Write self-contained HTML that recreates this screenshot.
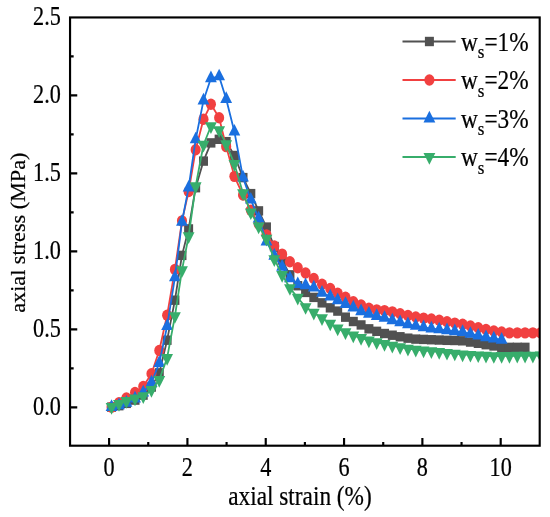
<!DOCTYPE html>
<html><head><meta charset="utf-8"><title>axial stress vs axial strain</title>
<style>
html,body{margin:0;padding:0;background:#fff;}
svg{display:block;}
text{font-family:"Liberation Serif","Times New Roman",serif;fill:#000;stroke:#000;stroke-width:0.2px;}
</style></head><body>
<svg width="550" height="517" viewBox="0 0 550 517">
<rect width="550" height="517" fill="#fff"/>

<defs><clipPath id="c"><rect x="70.05" y="17.45" width="469.65" height="428.25"/></clipPath></defs>
<g clip-path="url(#c)">
<g><polyline points="111.56,407.10 118.99,405.70 126.42,403.37 135.03,400.10 143.24,395.12 151.46,387.03 159.28,372.87 167.11,340.19 174.93,300.20 181.97,255.39 188.62,228.94 195.66,187.70 203.49,161.10 210.92,142.89 219.14,139.31 226.18,141.65 234.39,155.49 243.00,177.59 250.82,193.62 258.65,210.89 266.47,227.07 274.30,246.52 282.12,260.06 289.94,274.84 297.77,285.73 305.59,292.42 313.81,297.40 322.02,302.85 330.24,307.83 337.67,311.09 345.48,317.16 353.29,321.52 361.09,324.94 368.90,328.83 376.71,331.32 384.52,333.50 392.33,335.21 400.14,336.77 407.94,338.17 415.75,339.10 423.56,339.41 431.37,339.73 439.18,340.04 446.99,340.35 454.79,340.50 462.60,340.81 470.41,342.06 478.22,343.30 486.03,344.70 493.84,345.95 501.64,347.35 509.45,347.35 517.26,347.35 525.07,347.35" fill="none" stroke="#515151" stroke-width="1.8" stroke-linejoin="round"/>
<rect x="107.06" y="402.40" width="9.0" height="9.4" fill="#515151"/>
<rect x="114.49" y="401.00" width="9.0" height="9.4" fill="#515151"/>
<rect x="121.92" y="398.67" width="9.0" height="9.4" fill="#515151"/>
<rect x="130.53" y="395.40" width="9.0" height="9.4" fill="#515151"/>
<rect x="138.74" y="390.42" width="9.0" height="9.4" fill="#515151"/>
<rect x="146.96" y="382.33" width="9.0" height="9.4" fill="#515151"/>
<rect x="154.78" y="368.17" width="9.0" height="9.4" fill="#515151"/>
<rect x="162.61" y="335.49" width="9.0" height="9.4" fill="#515151"/>
<rect x="170.43" y="295.50" width="9.0" height="9.4" fill="#515151"/>
<rect x="177.47" y="250.69" width="9.0" height="9.4" fill="#515151"/>
<rect x="184.12" y="224.24" width="9.0" height="9.4" fill="#515151"/>
<rect x="191.16" y="183.00" width="9.0" height="9.4" fill="#515151"/>
<rect x="198.99" y="156.40" width="9.0" height="9.4" fill="#515151"/>
<rect x="206.42" y="138.19" width="9.0" height="9.4" fill="#515151"/>
<rect x="214.64" y="134.61" width="9.0" height="9.4" fill="#515151"/>
<rect x="221.68" y="136.95" width="9.0" height="9.4" fill="#515151"/>
<rect x="229.89" y="150.79" width="9.0" height="9.4" fill="#515151"/>
<rect x="238.50" y="172.89" width="9.0" height="9.4" fill="#515151"/>
<rect x="246.32" y="188.92" width="9.0" height="9.4" fill="#515151"/>
<rect x="254.15" y="206.19" width="9.0" height="9.4" fill="#515151"/>
<rect x="261.97" y="222.37" width="9.0" height="9.4" fill="#515151"/>
<rect x="269.80" y="241.82" width="9.0" height="9.4" fill="#515151"/>
<rect x="277.62" y="255.36" width="9.0" height="9.4" fill="#515151"/>
<rect x="285.44" y="270.14" width="9.0" height="9.4" fill="#515151"/>
<rect x="293.27" y="281.03" width="9.0" height="9.4" fill="#515151"/>
<rect x="301.09" y="287.72" width="9.0" height="9.4" fill="#515151"/>
<rect x="309.31" y="292.70" width="9.0" height="9.4" fill="#515151"/>
<rect x="317.52" y="298.15" width="9.0" height="9.4" fill="#515151"/>
<rect x="325.74" y="303.13" width="9.0" height="9.4" fill="#515151"/>
<rect x="333.17" y="306.39" width="9.0" height="9.4" fill="#515151"/>
<rect x="340.98" y="312.46" width="9.0" height="9.4" fill="#515151"/>
<rect x="348.79" y="316.82" width="9.0" height="9.4" fill="#515151"/>
<rect x="356.59" y="320.24" width="9.0" height="9.4" fill="#515151"/>
<rect x="364.40" y="324.13" width="9.0" height="9.4" fill="#515151"/>
<rect x="372.21" y="326.62" width="9.0" height="9.4" fill="#515151"/>
<rect x="380.02" y="328.80" width="9.0" height="9.4" fill="#515151"/>
<rect x="387.83" y="330.51" width="9.0" height="9.4" fill="#515151"/>
<rect x="395.64" y="332.07" width="9.0" height="9.4" fill="#515151"/>
<rect x="403.44" y="333.47" width="9.0" height="9.4" fill="#515151"/>
<rect x="411.25" y="334.40" width="9.0" height="9.4" fill="#515151"/>
<rect x="419.06" y="334.71" width="9.0" height="9.4" fill="#515151"/>
<rect x="426.87" y="335.03" width="9.0" height="9.4" fill="#515151"/>
<rect x="434.68" y="335.34" width="9.0" height="9.4" fill="#515151"/>
<rect x="442.49" y="335.65" width="9.0" height="9.4" fill="#515151"/>
<rect x="450.29" y="335.80" width="9.0" height="9.4" fill="#515151"/>
<rect x="458.10" y="336.11" width="9.0" height="9.4" fill="#515151"/>
<rect x="465.91" y="337.36" width="9.0" height="9.4" fill="#515151"/>
<rect x="473.72" y="338.60" width="9.0" height="9.4" fill="#515151"/>
<rect x="481.53" y="340.00" width="9.0" height="9.4" fill="#515151"/>
<rect x="489.34" y="341.25" width="9.0" height="9.4" fill="#515151"/>
<rect x="497.14" y="342.65" width="9.0" height="9.4" fill="#515151"/>
<rect x="504.95" y="342.65" width="9.0" height="9.4" fill="#515151"/>
<rect x="512.76" y="342.65" width="9.0" height="9.4" fill="#515151"/>
<rect x="520.57" y="342.65" width="9.0" height="9.4" fill="#515151"/>
</g>
<g><polyline points="111.56,407.10 118.99,402.74 126.42,397.92 135.03,392.47 143.24,386.41 151.46,373.80 159.28,350.46 167.11,315.30 174.93,269.39 181.97,220.85 188.62,191.59 195.66,149.74 203.49,119.24 210.92,104.30 219.14,117.68 226.18,146.63 234.39,176.35 243.00,195.02 250.82,210.11 258.65,223.96 266.47,234.85 274.30,246.05 282.12,254.15 289.94,261.77 297.77,267.68 305.59,272.97 313.81,278.57 322.02,284.18 330.24,288.53 337.67,293.20 345.48,297.25 353.29,301.76 361.09,305.03 368.90,308.29 376.71,309.85 384.52,310.63 392.33,311.87 400.14,313.74 407.94,315.45 415.75,317.01 423.56,318.10 431.37,319.03 439.18,320.28 446.99,321.68 454.79,323.08 462.60,324.32 470.41,326.03 478.22,327.74 486.03,329.46 493.84,331.01 501.64,331.95 509.45,332.88 517.26,332.88 525.07,332.88 532.88,332.88 540.69,332.88" fill="none" stroke="#F14040" stroke-width="1.8" stroke-linejoin="round"/>
<ellipse cx="111.56" cy="407.10" rx="5.05" ry="5.7" fill="#F14040"/>
<ellipse cx="118.99" cy="402.74" rx="5.05" ry="5.7" fill="#F14040"/>
<ellipse cx="126.42" cy="397.92" rx="5.05" ry="5.7" fill="#F14040"/>
<ellipse cx="135.03" cy="392.47" rx="5.05" ry="5.7" fill="#F14040"/>
<ellipse cx="143.24" cy="386.41" rx="5.05" ry="5.7" fill="#F14040"/>
<ellipse cx="151.46" cy="373.80" rx="5.05" ry="5.7" fill="#F14040"/>
<ellipse cx="159.28" cy="350.46" rx="5.05" ry="5.7" fill="#F14040"/>
<ellipse cx="167.11" cy="315.30" rx="5.05" ry="5.7" fill="#F14040"/>
<ellipse cx="174.93" cy="269.39" rx="5.05" ry="5.7" fill="#F14040"/>
<ellipse cx="181.97" cy="220.85" rx="5.05" ry="5.7" fill="#F14040"/>
<ellipse cx="188.62" cy="191.59" rx="5.05" ry="5.7" fill="#F14040"/>
<ellipse cx="195.66" cy="149.74" rx="5.05" ry="5.7" fill="#F14040"/>
<ellipse cx="203.49" cy="119.24" rx="5.05" ry="5.7" fill="#F14040"/>
<ellipse cx="210.92" cy="104.30" rx="5.05" ry="5.7" fill="#F14040"/>
<ellipse cx="219.14" cy="117.68" rx="5.05" ry="5.7" fill="#F14040"/>
<ellipse cx="226.18" cy="146.63" rx="5.05" ry="5.7" fill="#F14040"/>
<ellipse cx="234.39" cy="176.35" rx="5.05" ry="5.7" fill="#F14040"/>
<ellipse cx="243.00" cy="195.02" rx="5.05" ry="5.7" fill="#F14040"/>
<ellipse cx="250.82" cy="210.11" rx="5.05" ry="5.7" fill="#F14040"/>
<ellipse cx="258.65" cy="223.96" rx="5.05" ry="5.7" fill="#F14040"/>
<ellipse cx="266.47" cy="234.85" rx="5.05" ry="5.7" fill="#F14040"/>
<ellipse cx="274.30" cy="246.05" rx="5.05" ry="5.7" fill="#F14040"/>
<ellipse cx="282.12" cy="254.15" rx="5.05" ry="5.7" fill="#F14040"/>
<ellipse cx="289.94" cy="261.77" rx="5.05" ry="5.7" fill="#F14040"/>
<ellipse cx="297.77" cy="267.68" rx="5.05" ry="5.7" fill="#F14040"/>
<ellipse cx="305.59" cy="272.97" rx="5.05" ry="5.7" fill="#F14040"/>
<ellipse cx="313.81" cy="278.57" rx="5.05" ry="5.7" fill="#F14040"/>
<ellipse cx="322.02" cy="284.18" rx="5.05" ry="5.7" fill="#F14040"/>
<ellipse cx="330.24" cy="288.53" rx="5.05" ry="5.7" fill="#F14040"/>
<ellipse cx="337.67" cy="293.20" rx="5.05" ry="5.7" fill="#F14040"/>
<ellipse cx="345.48" cy="297.25" rx="5.05" ry="5.7" fill="#F14040"/>
<ellipse cx="353.29" cy="301.76" rx="5.05" ry="5.7" fill="#F14040"/>
<ellipse cx="361.09" cy="305.03" rx="5.05" ry="5.7" fill="#F14040"/>
<ellipse cx="368.90" cy="308.29" rx="5.05" ry="5.7" fill="#F14040"/>
<ellipse cx="376.71" cy="309.85" rx="5.05" ry="5.7" fill="#F14040"/>
<ellipse cx="384.52" cy="310.63" rx="5.05" ry="5.7" fill="#F14040"/>
<ellipse cx="392.33" cy="311.87" rx="5.05" ry="5.7" fill="#F14040"/>
<ellipse cx="400.14" cy="313.74" rx="5.05" ry="5.7" fill="#F14040"/>
<ellipse cx="407.94" cy="315.45" rx="5.05" ry="5.7" fill="#F14040"/>
<ellipse cx="415.75" cy="317.01" rx="5.05" ry="5.7" fill="#F14040"/>
<ellipse cx="423.56" cy="318.10" rx="5.05" ry="5.7" fill="#F14040"/>
<ellipse cx="431.37" cy="319.03" rx="5.05" ry="5.7" fill="#F14040"/>
<ellipse cx="439.18" cy="320.28" rx="5.05" ry="5.7" fill="#F14040"/>
<ellipse cx="446.99" cy="321.68" rx="5.05" ry="5.7" fill="#F14040"/>
<ellipse cx="454.79" cy="323.08" rx="5.05" ry="5.7" fill="#F14040"/>
<ellipse cx="462.60" cy="324.32" rx="5.05" ry="5.7" fill="#F14040"/>
<ellipse cx="470.41" cy="326.03" rx="5.05" ry="5.7" fill="#F14040"/>
<ellipse cx="478.22" cy="327.74" rx="5.05" ry="5.7" fill="#F14040"/>
<ellipse cx="486.03" cy="329.46" rx="5.05" ry="5.7" fill="#F14040"/>
<ellipse cx="493.84" cy="331.01" rx="5.05" ry="5.7" fill="#F14040"/>
<ellipse cx="501.64" cy="331.95" rx="5.05" ry="5.7" fill="#F14040"/>
<ellipse cx="509.45" cy="332.88" rx="5.05" ry="5.7" fill="#F14040"/>
<ellipse cx="517.26" cy="332.88" rx="5.05" ry="5.7" fill="#F14040"/>
<ellipse cx="525.07" cy="332.88" rx="5.05" ry="5.7" fill="#F14040"/>
<ellipse cx="532.88" cy="332.88" rx="5.05" ry="5.7" fill="#F14040"/>
<ellipse cx="540.69" cy="332.88" rx="5.05" ry="5.7" fill="#F14040"/>
</g>
<g><polyline points="111.56,407.10 118.99,405.39 126.42,402.74 135.03,398.54 143.24,392.63 151.46,382.52 159.28,363.07 167.11,326.19 174.93,277.33 181.97,221.94 188.62,187.70 195.66,139.47 203.49,100.57 210.92,78.32 219.14,76.45 226.18,99.01 234.39,131.69 243.00,177.59 250.82,199.69 258.65,218.51 266.47,241.54 274.30,255.86 282.12,266.90 289.94,278.26 297.77,284.18 305.59,285.42 313.81,287.60 322.02,292.73 330.24,296.62 337.67,300.36 345.48,304.09 353.29,307.67 361.09,311.25 368.90,313.74 376.71,316.07 384.52,317.94 392.33,320.43 400.14,322.30 407.94,324.32 415.75,325.88 423.56,327.28 431.37,328.52 439.18,329.46 446.99,330.39 454.79,331.32 462.60,332.10 470.41,333.97 478.22,335.68 486.03,337.39 493.84,338.64 501.64,339.73" fill="none" stroke="#1A6FDF" stroke-width="1.8" stroke-linejoin="round"/>
<polygon points="111.56,399.30 105.66,411.00 117.46,411.00" fill="#1A6FDF"/>
<polygon points="118.99,397.59 113.09,409.29 124.89,409.29" fill="#1A6FDF"/>
<polygon points="126.42,394.94 120.52,406.64 132.32,406.64" fill="#1A6FDF"/>
<polygon points="135.03,390.74 129.13,402.44 140.93,402.44" fill="#1A6FDF"/>
<polygon points="143.24,384.83 137.34,396.53 149.14,396.53" fill="#1A6FDF"/>
<polygon points="151.46,374.72 145.56,386.42 157.36,386.42" fill="#1A6FDF"/>
<polygon points="159.28,355.27 153.38,366.97 165.18,366.97" fill="#1A6FDF"/>
<polygon points="167.11,318.39 161.21,330.09 173.01,330.09" fill="#1A6FDF"/>
<polygon points="174.93,269.53 169.03,281.23 180.83,281.23" fill="#1A6FDF"/>
<polygon points="181.97,214.14 176.07,225.84 187.87,225.84" fill="#1A6FDF"/>
<polygon points="188.62,179.90 182.72,191.60 194.52,191.60" fill="#1A6FDF"/>
<polygon points="195.66,131.67 189.76,143.37 201.56,143.37" fill="#1A6FDF"/>
<polygon points="203.49,92.77 197.59,104.47 209.39,104.47" fill="#1A6FDF"/>
<polygon points="210.92,70.52 205.02,82.22 216.82,82.22" fill="#1A6FDF"/>
<polygon points="219.14,68.65 213.24,80.35 225.04,80.35" fill="#1A6FDF"/>
<polygon points="226.18,91.21 220.28,102.91 232.08,102.91" fill="#1A6FDF"/>
<polygon points="234.39,123.89 228.49,135.59 240.29,135.59" fill="#1A6FDF"/>
<polygon points="243.00,169.79 237.10,181.49 248.90,181.49" fill="#1A6FDF"/>
<polygon points="250.82,191.89 244.92,203.59 256.72,203.59" fill="#1A6FDF"/>
<polygon points="258.65,210.71 252.75,222.41 264.55,222.41" fill="#1A6FDF"/>
<polygon points="266.47,233.74 260.57,245.44 272.37,245.44" fill="#1A6FDF"/>
<polygon points="274.30,248.06 268.40,259.76 280.20,259.76" fill="#1A6FDF"/>
<polygon points="282.12,259.10 276.22,270.80 288.02,270.80" fill="#1A6FDF"/>
<polygon points="289.94,270.46 284.04,282.16 295.84,282.16" fill="#1A6FDF"/>
<polygon points="297.77,276.38 291.87,288.08 303.67,288.08" fill="#1A6FDF"/>
<polygon points="305.59,277.62 299.69,289.32 311.49,289.32" fill="#1A6FDF"/>
<polygon points="313.81,279.80 307.91,291.50 319.71,291.50" fill="#1A6FDF"/>
<polygon points="322.02,284.93 316.12,296.63 327.92,296.63" fill="#1A6FDF"/>
<polygon points="330.24,288.82 324.34,300.52 336.14,300.52" fill="#1A6FDF"/>
<polygon points="337.67,292.56 331.77,304.26 343.57,304.26" fill="#1A6FDF"/>
<polygon points="345.48,296.29 339.58,307.99 351.38,307.99" fill="#1A6FDF"/>
<polygon points="353.29,299.87 347.39,311.57 359.19,311.57" fill="#1A6FDF"/>
<polygon points="361.09,303.45 355.19,315.15 366.99,315.15" fill="#1A6FDF"/>
<polygon points="368.90,305.94 363.00,317.64 374.80,317.64" fill="#1A6FDF"/>
<polygon points="376.71,308.27 370.81,319.97 382.61,319.97" fill="#1A6FDF"/>
<polygon points="384.52,310.14 378.62,321.84 390.42,321.84" fill="#1A6FDF"/>
<polygon points="392.33,312.63 386.43,324.33 398.23,324.33" fill="#1A6FDF"/>
<polygon points="400.14,314.50 394.24,326.20 406.04,326.20" fill="#1A6FDF"/>
<polygon points="407.94,316.52 402.04,328.22 413.84,328.22" fill="#1A6FDF"/>
<polygon points="415.75,318.08 409.85,329.78 421.65,329.78" fill="#1A6FDF"/>
<polygon points="423.56,319.48 417.66,331.18 429.46,331.18" fill="#1A6FDF"/>
<polygon points="431.37,320.72 425.47,332.42 437.27,332.42" fill="#1A6FDF"/>
<polygon points="439.18,321.66 433.28,333.36 445.08,333.36" fill="#1A6FDF"/>
<polygon points="446.99,322.59 441.09,334.29 452.89,334.29" fill="#1A6FDF"/>
<polygon points="454.79,323.52 448.89,335.22 460.69,335.22" fill="#1A6FDF"/>
<polygon points="462.60,324.30 456.70,336.00 468.50,336.00" fill="#1A6FDF"/>
<polygon points="470.41,326.17 464.51,337.87 476.31,337.87" fill="#1A6FDF"/>
<polygon points="478.22,327.88 472.32,339.58 484.12,339.58" fill="#1A6FDF"/>
<polygon points="486.03,329.59 480.13,341.29 491.93,341.29" fill="#1A6FDF"/>
<polygon points="493.84,330.84 487.94,342.54 499.74,342.54" fill="#1A6FDF"/>
<polygon points="501.64,331.93 495.74,343.63 507.54,343.63" fill="#1A6FDF"/>
</g>
<g><polyline points="111.56,406.94 118.99,403.83 126.42,400.88 135.03,398.39 143.24,396.21 151.46,389.98 159.28,379.87 167.11,357.93 174.93,316.07 181.97,270.17 188.62,236.25 195.66,186.15 203.49,144.76 210.92,126.24 219.14,130.13 226.18,144.14 234.39,163.90 243.00,193.15 250.82,212.29 258.65,226.45 266.47,238.74 274.30,259.12 282.12,274.84 289.94,288.07 297.77,297.71 305.59,307.05 313.81,312.65 322.02,318.10 330.24,323.54 337.67,328.52 345.48,332.10 353.29,335.52 361.09,338.01 368.90,340.35 376.71,342.21 384.52,343.93 392.33,345.64 400.14,347.19 407.94,348.59 415.75,349.68 423.56,350.46 431.37,351.08 439.18,351.86 446.99,352.80 454.79,353.57 462.60,354.35 470.41,354.82 478.22,355.29 486.03,355.75 493.84,356.06 501.64,355.91 509.45,355.91 517.26,355.75 525.07,355.60 532.88,355.60 540.69,355.44" fill="none" stroke="#37AD6B" stroke-width="1.8" stroke-linejoin="round"/>
<polygon points="111.56,414.74 105.66,403.04 117.46,403.04" fill="#37AD6B"/>
<polygon points="118.99,411.63 113.09,399.93 124.89,399.93" fill="#37AD6B"/>
<polygon points="126.42,408.68 120.52,396.98 132.32,396.98" fill="#37AD6B"/>
<polygon points="135.03,406.19 129.13,394.49 140.93,394.49" fill="#37AD6B"/>
<polygon points="143.24,404.01 137.34,392.31 149.14,392.31" fill="#37AD6B"/>
<polygon points="151.46,397.78 145.56,386.08 157.36,386.08" fill="#37AD6B"/>
<polygon points="159.28,387.67 153.38,375.97 165.18,375.97" fill="#37AD6B"/>
<polygon points="167.11,365.73 161.21,354.03 173.01,354.03" fill="#37AD6B"/>
<polygon points="174.93,323.87 169.03,312.17 180.83,312.17" fill="#37AD6B"/>
<polygon points="181.97,277.97 176.07,266.27 187.87,266.27" fill="#37AD6B"/>
<polygon points="188.62,244.05 182.72,232.35 194.52,232.35" fill="#37AD6B"/>
<polygon points="195.66,193.95 189.76,182.25 201.56,182.25" fill="#37AD6B"/>
<polygon points="203.49,152.56 197.59,140.86 209.39,140.86" fill="#37AD6B"/>
<polygon points="210.92,134.04 205.02,122.34 216.82,122.34" fill="#37AD6B"/>
<polygon points="219.14,137.93 213.24,126.23 225.04,126.23" fill="#37AD6B"/>
<polygon points="226.18,151.94 220.28,140.24 232.08,140.24" fill="#37AD6B"/>
<polygon points="234.39,171.70 228.49,160.00 240.29,160.00" fill="#37AD6B"/>
<polygon points="243.00,200.95 237.10,189.25 248.90,189.25" fill="#37AD6B"/>
<polygon points="250.82,220.09 244.92,208.39 256.72,208.39" fill="#37AD6B"/>
<polygon points="258.65,234.25 252.75,222.55 264.55,222.55" fill="#37AD6B"/>
<polygon points="266.47,246.54 260.57,234.84 272.37,234.84" fill="#37AD6B"/>
<polygon points="274.30,266.92 268.40,255.22 280.20,255.22" fill="#37AD6B"/>
<polygon points="282.12,282.64 276.22,270.94 288.02,270.94" fill="#37AD6B"/>
<polygon points="289.94,295.87 284.04,284.17 295.84,284.17" fill="#37AD6B"/>
<polygon points="297.77,305.51 291.87,293.81 303.67,293.81" fill="#37AD6B"/>
<polygon points="305.59,314.85 299.69,303.15 311.49,303.15" fill="#37AD6B"/>
<polygon points="313.81,320.45 307.91,308.75 319.71,308.75" fill="#37AD6B"/>
<polygon points="322.02,325.90 316.12,314.20 327.92,314.20" fill="#37AD6B"/>
<polygon points="330.24,331.34 324.34,319.64 336.14,319.64" fill="#37AD6B"/>
<polygon points="337.67,336.32 331.77,324.62 343.57,324.62" fill="#37AD6B"/>
<polygon points="345.48,339.90 339.58,328.20 351.38,328.20" fill="#37AD6B"/>
<polygon points="353.29,343.32 347.39,331.62 359.19,331.62" fill="#37AD6B"/>
<polygon points="361.09,345.81 355.19,334.11 366.99,334.11" fill="#37AD6B"/>
<polygon points="368.90,348.15 363.00,336.45 374.80,336.45" fill="#37AD6B"/>
<polygon points="376.71,350.01 370.81,338.31 382.61,338.31" fill="#37AD6B"/>
<polygon points="384.52,351.73 378.62,340.03 390.42,340.03" fill="#37AD6B"/>
<polygon points="392.33,353.44 386.43,341.74 398.23,341.74" fill="#37AD6B"/>
<polygon points="400.14,354.99 394.24,343.29 406.04,343.29" fill="#37AD6B"/>
<polygon points="407.94,356.39 402.04,344.69 413.84,344.69" fill="#37AD6B"/>
<polygon points="415.75,357.48 409.85,345.78 421.65,345.78" fill="#37AD6B"/>
<polygon points="423.56,358.26 417.66,346.56 429.46,346.56" fill="#37AD6B"/>
<polygon points="431.37,358.88 425.47,347.18 437.27,347.18" fill="#37AD6B"/>
<polygon points="439.18,359.66 433.28,347.96 445.08,347.96" fill="#37AD6B"/>
<polygon points="446.99,360.60 441.09,348.90 452.89,348.90" fill="#37AD6B"/>
<polygon points="454.79,361.37 448.89,349.67 460.69,349.67" fill="#37AD6B"/>
<polygon points="462.60,362.15 456.70,350.45 468.50,350.45" fill="#37AD6B"/>
<polygon points="470.41,362.62 464.51,350.92 476.31,350.92" fill="#37AD6B"/>
<polygon points="478.22,363.09 472.32,351.39 484.12,351.39" fill="#37AD6B"/>
<polygon points="486.03,363.55 480.13,351.85 491.93,351.85" fill="#37AD6B"/>
<polygon points="493.84,363.86 487.94,352.16 499.74,352.16" fill="#37AD6B"/>
<polygon points="501.64,363.71 495.74,352.01 507.54,352.01" fill="#37AD6B"/>
<polygon points="509.45,363.71 503.55,352.01 515.35,352.01" fill="#37AD6B"/>
<polygon points="517.26,363.55 511.36,351.85 523.16,351.85" fill="#37AD6B"/>
<polygon points="525.07,363.40 519.17,351.70 530.97,351.70" fill="#37AD6B"/>
<polygon points="532.88,363.40 526.98,351.70 538.78,351.70" fill="#37AD6B"/>
<polygon points="540.69,363.24 534.79,351.54 546.59,351.54" fill="#37AD6B"/>
</g>
</g>
<rect x="70.05" y="17.45" width="469.65" height="428.25" fill="none" stroke="#000" stroke-width="2.15"/>
<path d="M109.10,445.7 v-7.7 M148.26,445.7 v-3.7 M187.42,445.7 v-7.7 M226.58,445.7 v-3.7 M265.74,445.7 v-7.7 M304.90,445.7 v-3.7 M344.06,445.7 v-7.7 M383.22,445.7 v-3.7 M422.38,445.7 v-7.7 M461.54,445.7 v-3.7 M500.70,445.7 v-7.7 M70.05,56.44 h3.6 M70.05,95.43 h7.2 M70.05,134.42 h3.6 M70.05,173.41 h7.2 M70.05,212.40 h3.6 M70.05,251.39 h7.2 M70.05,290.38 h3.6 M70.05,329.37 h7.2 M70.05,368.36 h3.6 M70.05,407.35 h7.2" stroke="#000" stroke-width="2.15" fill="none"/>
<text transform="translate(109.10,475.80) scale(1,1.21)" text-anchor="middle" font-size="22.2">0</text>
<text transform="translate(187.42,475.80) scale(1,1.21)" text-anchor="middle" font-size="22.2">2</text>
<text transform="translate(265.74,475.80) scale(1,1.21)" text-anchor="middle" font-size="22.2">4</text>
<text transform="translate(344.06,475.80) scale(1,1.21)" text-anchor="middle" font-size="22.2">6</text>
<text transform="translate(422.38,475.80) scale(1,1.21)" text-anchor="middle" font-size="22.2">8</text>
<text transform="translate(500.70,475.80) scale(1,1.21)" text-anchor="middle" font-size="22.2">10</text>
<text transform="translate(60.80,415.25) scale(1,1.21)" text-anchor="end" font-size="22.2">0.0</text>
<text transform="translate(60.80,337.27) scale(1,1.21)" text-anchor="end" font-size="22.2">0.5</text>
<text transform="translate(60.80,259.29) scale(1,1.21)" text-anchor="end" font-size="22.2">1.0</text>
<text transform="translate(60.80,181.31) scale(1,1.21)" text-anchor="end" font-size="22.2">1.5</text>
<text transform="translate(60.80,103.33) scale(1,1.21)" text-anchor="end" font-size="22.2">2.0</text>
<text transform="translate(60.80,25.35) scale(1,1.21)" text-anchor="end" font-size="22.2">2.5</text>
<text transform="translate(300.0,505.2) scale(1,1.2)" text-anchor="middle" font-size="23.3">axial strain (%)</text>
<text transform="translate(24.5,232.7) rotate(-90) scale(1.11,1)" text-anchor="middle" font-size="20">axial stress (MPa)</text>
<line x1="402.5" x2="455.7" y1="41.50" y2="41.50" stroke="#515151" stroke-width="2"/>
<rect x="424.90" y="36.80" width="9.0" height="9.4" fill="#515151"/>
<text transform="translate(461,50.80) scale(1,1.155)" font-size="23.3">w<tspan font-size="17" dy="6.3">s</tspan><tspan dy="-6.3">=1%</tspan></text>
<line x1="402.5" x2="455.7" y1="80.00" y2="80.00" stroke="#F14040" stroke-width="2"/>
<ellipse cx="429.40" cy="80.00" rx="5.05" ry="5.7" fill="#F14040"/>
<text transform="translate(461,89.30) scale(1,1.155)" font-size="23.3">w<tspan font-size="17" dy="6.3">s</tspan><tspan dy="-6.3">=2%</tspan></text>
<line x1="402.5" x2="455.7" y1="118.50" y2="118.50" stroke="#1A6FDF" stroke-width="2"/>
<polygon points="429.40,110.70 423.50,122.40 435.30,122.40" fill="#1A6FDF"/>
<text transform="translate(461,127.80) scale(1,1.155)" font-size="23.3">w<tspan font-size="17" dy="6.3">s</tspan><tspan dy="-6.3">=3%</tspan></text>
<line x1="402.5" x2="455.7" y1="157.00" y2="157.00" stroke="#37AD6B" stroke-width="2"/>
<polygon points="429.40,164.80 423.50,153.10 435.30,153.10" fill="#37AD6B"/>
<text transform="translate(461,166.30) scale(1,1.155)" font-size="23.3">w<tspan font-size="17" dy="6.3">s</tspan><tspan dy="-6.3">=4%</tspan></text>
</svg></body></html>
